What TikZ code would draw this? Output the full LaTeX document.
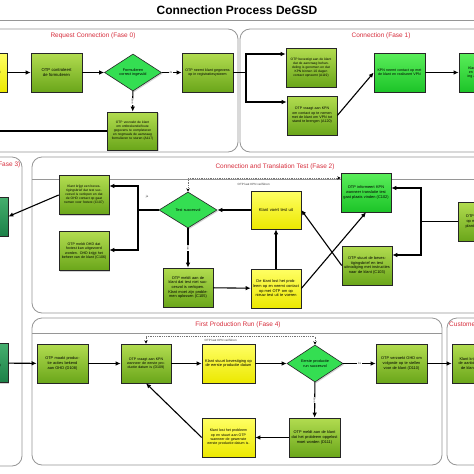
\documentclass[tikz,border=0pt]{standalone}
\usepackage{fontspec}
\setmainfont{Liberation Sans}
\usetikzlibrary{arrows.meta,shadows,calc,shapes.geometric}

\definecolor{olA}{RGB}{178,220,80}
\definecolor{olB}{RGB}{106,166,26}
\definecolor{brA}{RGB}{90,238,90}
\definecolor{brB}{RGB}{28,196,40}
\definecolor{yeA}{RGB}{255,255,100}
\definecolor{yeB}{RGB}{236,232,0}
\definecolor{dgA}{RGB}{70,175,110}
\definecolor{dgB}{RGB}{28,128,72}
\definecolor{dia}{RGB}{52,222,82}
\definecolor{hdr}{RGB}{215,45,60}
\definecolor{frame}{RGB}{150,150,150}

\tikzset{
  box/.style={draw=black!85, line width=0.6pt, minimum width=50pt, minimum height=39pt,
    text width=46pt, align=center, inner sep=1pt, font=\fontsize{3.6}{4.3}\selectfont,
    drop shadow={opacity=0.35,shadow xshift=1.2pt,shadow yshift=-1.2pt}},
  olive/.style={box, top color=olA, bottom color=olB},
  bright/.style={box, top color=brA, bottom color=brB},
  yel/.style={box, top color=yeA, bottom color=yeB},
  dkg/.style={box, top color=dgA, bottom color=dgB},
  dec/.style={diamond, aspect=1.55, draw=black!85, line width=0.6pt, fill=dia, inner sep=0pt,
    minimum width=57pt, minimum height=37pt, text width=34pt, align=center,
    font=\fontsize{3.8}{4.5}\selectfont,
    drop shadow={opacity=0.35,shadow xshift=1.2pt,shadow yshift=-1.2pt}},
  ed/.style={draw=black, line width=1.1pt, -{Latex[length=5pt,width=4.5pt]}},
  ln/.style={draw=black, line width=1.1pt},
  dotl/.style={draw=black!55, line width=1pt, dash pattern=on 1pt off 0.8pt},
  dota/.style={dotl, -{Stealth[length=3.5pt,width=3.5pt,black]}},
  cont/.style={draw=frame, line width=0.8pt, rounded corners=10pt, fill=white},
  hd/.style={text=hdr, font=\fontsize{6.5}{7.5}\selectfont, inner sep=0pt},
  lb/.style={font=\fontsize{3}{3.5}\selectfont, text=black!75, inner sep=0.5pt},
}

\begin{document}
\begin{tikzpicture}[x=1pt,y=-1pt]
\useasboundingbox (0,0) rectangle (474,474);
\clip (0,0) rectangle (474,474);
\fill[white] (0,0) rectangle (474,474);

% title
\node[font=\bfseries\fontsize{12}{14}\selectfont, inner sep=0pt] (title) at (237,10) {Connection Process DeGSD};
\draw[frame, line width=1pt] (0,20.5) -- (474,20.5);

% containers
\draw[cont] (-20,29) rectangle (238,152);
\node[hd] (h0) at (93,36) {Request Connection (Fase 0)};
\draw[cont] (240,29) rectangle (500,152);
\node[hd] (h1) at (381,36) {Connection (Fase 1)};
\draw[cont] (-30,157) rectangle (22,466);
\node[hd, anchor=east] (h3) at (20.5,165) {Go Live (Fase 3)};
\draw[cont] (32,157) rectangle (500,313);
\draw[frame, line width=0.8pt] (32,179) -- (500,179);
\node[hd] (h2) at (275,167) {Connection and Translation Test  (Fase 2)};
\draw[cont] (32,318) rectangle (442,465);
\draw[frame, line width=0.8pt] (32,333) -- (442,333);
\node[hd] (h4) at (238,325) {First Production Run (Fase 4)};
\draw[cont] (447,318) rectangle (530,465);
\node[hd, anchor=west] (h5) at (449,325) {Customer Care (Fase 5)};

% ---------- Fase 0 ----------
\node[yel] (y0) at (-18,72.5) {Klant vult de aanvraag formulieren in en stuurt deze naar OTP (A116)};
\node[olive, minimum width=51pt, font=\fontsize{4.2}{5}\selectfont] (b2) at (56.5,72.5) {OTP controleert de formulieren};
\node[dec] (d1) at (133,72.5) {Formulieren correct ingevuld};
\node[olive, minimum width=51pt] (b3) at (207.5,72.5) {OTP neemt klant gegevens op in registratiesysteem};
\node[olive, minimum height=38pt, font=\fontsize{3.3}{4}\selectfont] (b4) at (132.5,131) {OTP verzoekt de klant om ontbrekende/foute gegevens te completeren en nogmaals de aanvraag formulieren te sturen (A117)};
\node[olive, font=\fontsize{3.3}{4}\selectfont] (b5) at (311,67.5) {OTP bevestigt aan de klant dat de aanvraag behandeling is genomen en dat KPN binnen 10 dagen contact opneemt (A119)};
\node[olive] (b6) at (312,115.5) {OTP vraagt aan KPN om contact op te nemen met de klant om VPN tot stand te brengen (A120)};
\node[bright, minimum width=51pt] (b7) at (399.5,72.5) {KPN neemt contact op met de klant en realiseert VPN};
\node[bright] (b8) at (484,72.5) {Klant geeft akkoord en stuurt bevestiging aan OTP (C101)};

\draw[ed] (y0) -- (b2);
\draw[ed] (b2) -- (d1);
\draw[ed] (d1) -- node[lb, fill=white, pos=0.45] {Ja} (b3);
\draw[ed] (d1) -- node[lb, fill=white, rotate=-90] {Nee} (b4);
\coordinate (c0) at (-18,131);
\draw[ed] (b4.west) -- (c0) -- (y0.south);
\coordinate (j1) at (246,72.5);
\draw[ln] (b3.east) -- (j1);
\draw[ed] (j1) |- ($(b5.west)+(0,-13.5)$);
\draw[ed] (j1) |- ($(b6.west)+(0,-13.5)$);
\draw[ed] (b6.east) -- (b7.west);
\draw[ed] (b7) -- (b8);

% ---------- Fase 2 ----------
\node[dec, minimum width=58pt, minimum height=36pt] (d2) at (188,210) {Test succesvol};
\node[yel, minimum height=38pt, font=\fontsize{4.2}{5}\selectfont] (kl) at (276,210) {Klant voert test uit};
\node[olive, font=\fontsize{3.3}{4}\selectfont] (E) at (84,195) {Klant krijgt een bevestigingsbrief dat test succesvol is verlopen en dat de OHD contact op gaat nemen voor foxtest (C107)};
\node[olive] (F) at (84,251) {OTP meldt OHD dat foxtest kan uitgevoerd worden. OHD krijgt het beheer van de klant (C106)};
\node[olive, font=\fontsize{3.9}{4.6}\selectfont] (G) at (188,287.5) {OTP meldt aan de klant dat test niet succesvol is verlopen. Klant moet zijn problemen oplossen (C105)};
\node[yel, font=\fontsize{3.9}{4.6}\selectfont] (H) at (276,288.5) {De klant lost het probleem op en neemt contact op met OTP om op nieuw test uit te voeren};
\node[bright, font=\fontsize{3.9}{4.6}\selectfont] (I) at (366,192.5) {OTP informeert KPN wanneer translatie test gaat plaats vinden (C102)};
\node[olive, font=\fontsize{3.9}{4.6}\selectfont] (J) at (367,265.5) {OTP stuurt de bevestigingsbrief en test uitnodiging met instructies naar de klant (C103)};
\node[olive, font=\fontsize{3.9}{4.6}\selectfont] (K) at (483,221.5) {OTP neemt contact op met de klant en plant de test (C101)};
\node[dkg] (P3a) at (-17,216.5) {OHD voert foxtest uit met de klant (C108)};
\node[dkg] (P3b) at (-17,363) {OHD meldt OTP dat de klant live is (D107)};

\draw[ed] (kl) -- (d2);
\coordinate (j2) at (138,210);
\draw[ln] (d2.west) -- (j2);
\node[lb] (lja) at (147,197) {ja};
\draw[ed] (j2) |- ($(E.east)+(0,-9)$);
\draw[ed] (j2) |- ($(F.east)+(0,-1)$);
\draw[ed] (d2) -- node[lb, fill=white, rotate=-90] {nee} (G);
\draw[ed] (G) -- (H);
\draw[ed] (H) -- (kl);
\draw[ed] (H.east) -- (I.south);
\draw[ed] (J.west) -- (kl.east);
\coordinate (j3) at (421,221.5);
\draw[ln] (K.west) -- (j3);
\draw[ed] (j3) |- ($(I.east)+(0,-4.5)$);
\draw[ed] (j3) |- ($(J.east)+(0,-10.5)$);
\draw[ed] (E.west) -- (P3a.east);
\coordinate (t2) at (188,178);
\draw[dota] (t2) -- ($(I.west)+(0,-14.5)$);
\draw[dota] (t2) -- (d2.north);
\node[lb, anchor=west] (v2) at (237,184) {OTP laat KPN verifiëren};

% ---------- Fase 4 ----------
\node[olive, minimum width=51pt, font=\fontsize{3.9}{4.6}\selectfont] (L) at (62.5,363.5) {OTP maakt productie acties bekend aan OHD (D108)};
\node[olive, font=\fontsize{3.6}{4.3}\selectfont] (M) at (146,363.5) {OTP vraagt aan KPN wanneer de eerste productie datum is (D109)};
\node[yel, minimum width=53pt, text width=49pt, font=\fontsize{3.9}{4.6}\selectfont] (N) at (228.5,363.5) {Klant stuurt bevestiging op de eerste productie datum};
\node[dec, minimum width=56pt] (O) at (315,363.5) {Eerste productie run succesvol};
\node[olive, minimum width=51pt, font=\fontsize{3.9}{4.6}\selectfont] (P) at (401.5,363.5) {OTP verzoekt OHD om volgorde op te stellen voor de klant (D110)};
\node[olive, minimum width=51pt, font=\fontsize{3.9}{4.6}\selectfont] (Q) at (477.5,363.5) {Klant krijgt van OHD de aanbieding en kan de klant aansluiten};
\node[olive, minimum width=51pt, font=\fontsize{3.9}{4.6}\selectfont] (R) at (314.5,437.5) {OTP meldt aan de klant dat het probleem opgelost moet worden (D111)};
\node[yel, minimum width=53pt, text width=49pt, font=\fontsize{3.6}{4.3}\selectfont] (S) at (228.5,437.5) {Klant lost het probleem op en stuurt aan OTP wanneer de gewenste eerste productie datum is.};

\draw[ed] (P3b) -- (L);
\draw[ed] (L) -- (M);
\draw[ed] (M) -- (N);
\draw[ed] (N) -- (O);
\draw[ed] (O) -- node[lb, fill=white, pos=0.5] {Ja} (P);
\draw[ed] (P) -- (Q);
\draw[ed] (O) -- node[lb, fill=white, rotate=-90] {Nee} (R);
\draw[ed] (R) -- (S);
\draw[ed] (S.west) -- (M.south);
\coordinate (t4a) at (146,336.5);
\coordinate (t4b) at (315,336.5);
\draw[dotl] (t4a) -- (t4b);
\draw[dota] (t4a) -- (M.north);
\draw[dota] (t4b) -- (O.north);
\node[lb, anchor=west] (v4) at (204,340.5) {OTP laat KPN verifiëren};
\end{tikzpicture}
\end{document}
